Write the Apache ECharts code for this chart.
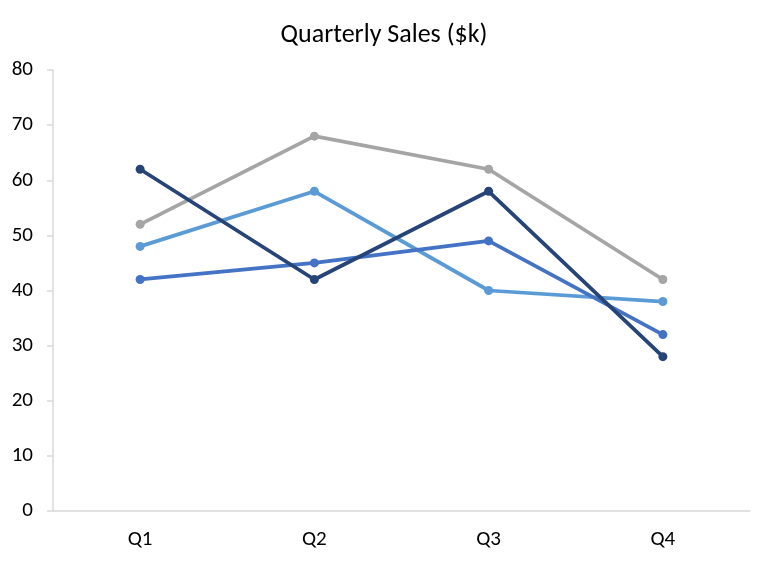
<!DOCTYPE html>
<html>
<head>
<meta charset="utf-8">
<script src="https://cdn.jsdelivr.net/npm/echarts@6/dist/echarts.min.js"></script>
<style>html,body{margin:0;padding:0;background:#fff}#c{width:768px;height:563px}</style>
</head>
<body>
<div id="c"></div>
<script>
const categories = ['Q1', 'Q2', 'Q3', 'Q4'];
const seriesGray = [52, 68, 62, 42];
const seriesLight = [48, 58, 40, 38];
const seriesMid = [42, 45, 49, 32];
const seriesNavy = [62, 42, 58, 28];
const yTicks = [0, 10, 20, 30, 40, 50, 60, 70, 80];

const font = "Carlito, 'Liberation Sans', 'Noto Sans', sans-serif";
function mk(name, data, color) {
  return {
    name, type: 'line', data,
    symbol: 'circle', symbolSize: 9,
    lineStyle: { width: 3.75, color },
    itemStyle: { color },
    animation: false
  };
}
const chart = echarts.init(document.getElementById('c'));
chart.setOption({
  backgroundColor: '#fff',
  title: {
    text: 'Quarterly Sales ($k)', left: 'center', top: 17,
    textStyle: { fontFamily: font, fontSize: 26, fontWeight: 'normal', color: '#000' }
  },
  grid: { left: 53, right: 18, top: 70, bottom: 52 },
  xAxis: {
    type: 'category', data: categories, boundaryGap: true,
    axisLine: { lineStyle: { color: '#d9d9d9', width: 1.5 } },
    axisTick: { show: false },
    axisLabel: { color: '#000', fontFamily: font, fontSize: 21, margin: 18 }
  },
  yAxis: {
    type: 'value', min: yTicks[0], max: yTicks[yTicks.length - 1], interval: 10,
    axisLine: { show: true, lineStyle: { color: '#d9d9d9', width: 1.5 } },
    axisTick: { show: true, length: 6, lineStyle: { color: '#d9d9d9', width: 1.5 } },
    splitLine: { show: false },
    axisLabel: { color: '#000', fontFamily: font, fontSize: 21, margin: 20 }
  },
  series: [
    mk('Gray', seriesGray, '#A5A5A5'),
    mk('Light', seriesLight, '#5B9BD5'),
    mk('Mid', seriesMid, '#4472C4'),
    mk('Navy', seriesNavy, '#264478')
  ]
});
</script>
</body>
</html>
